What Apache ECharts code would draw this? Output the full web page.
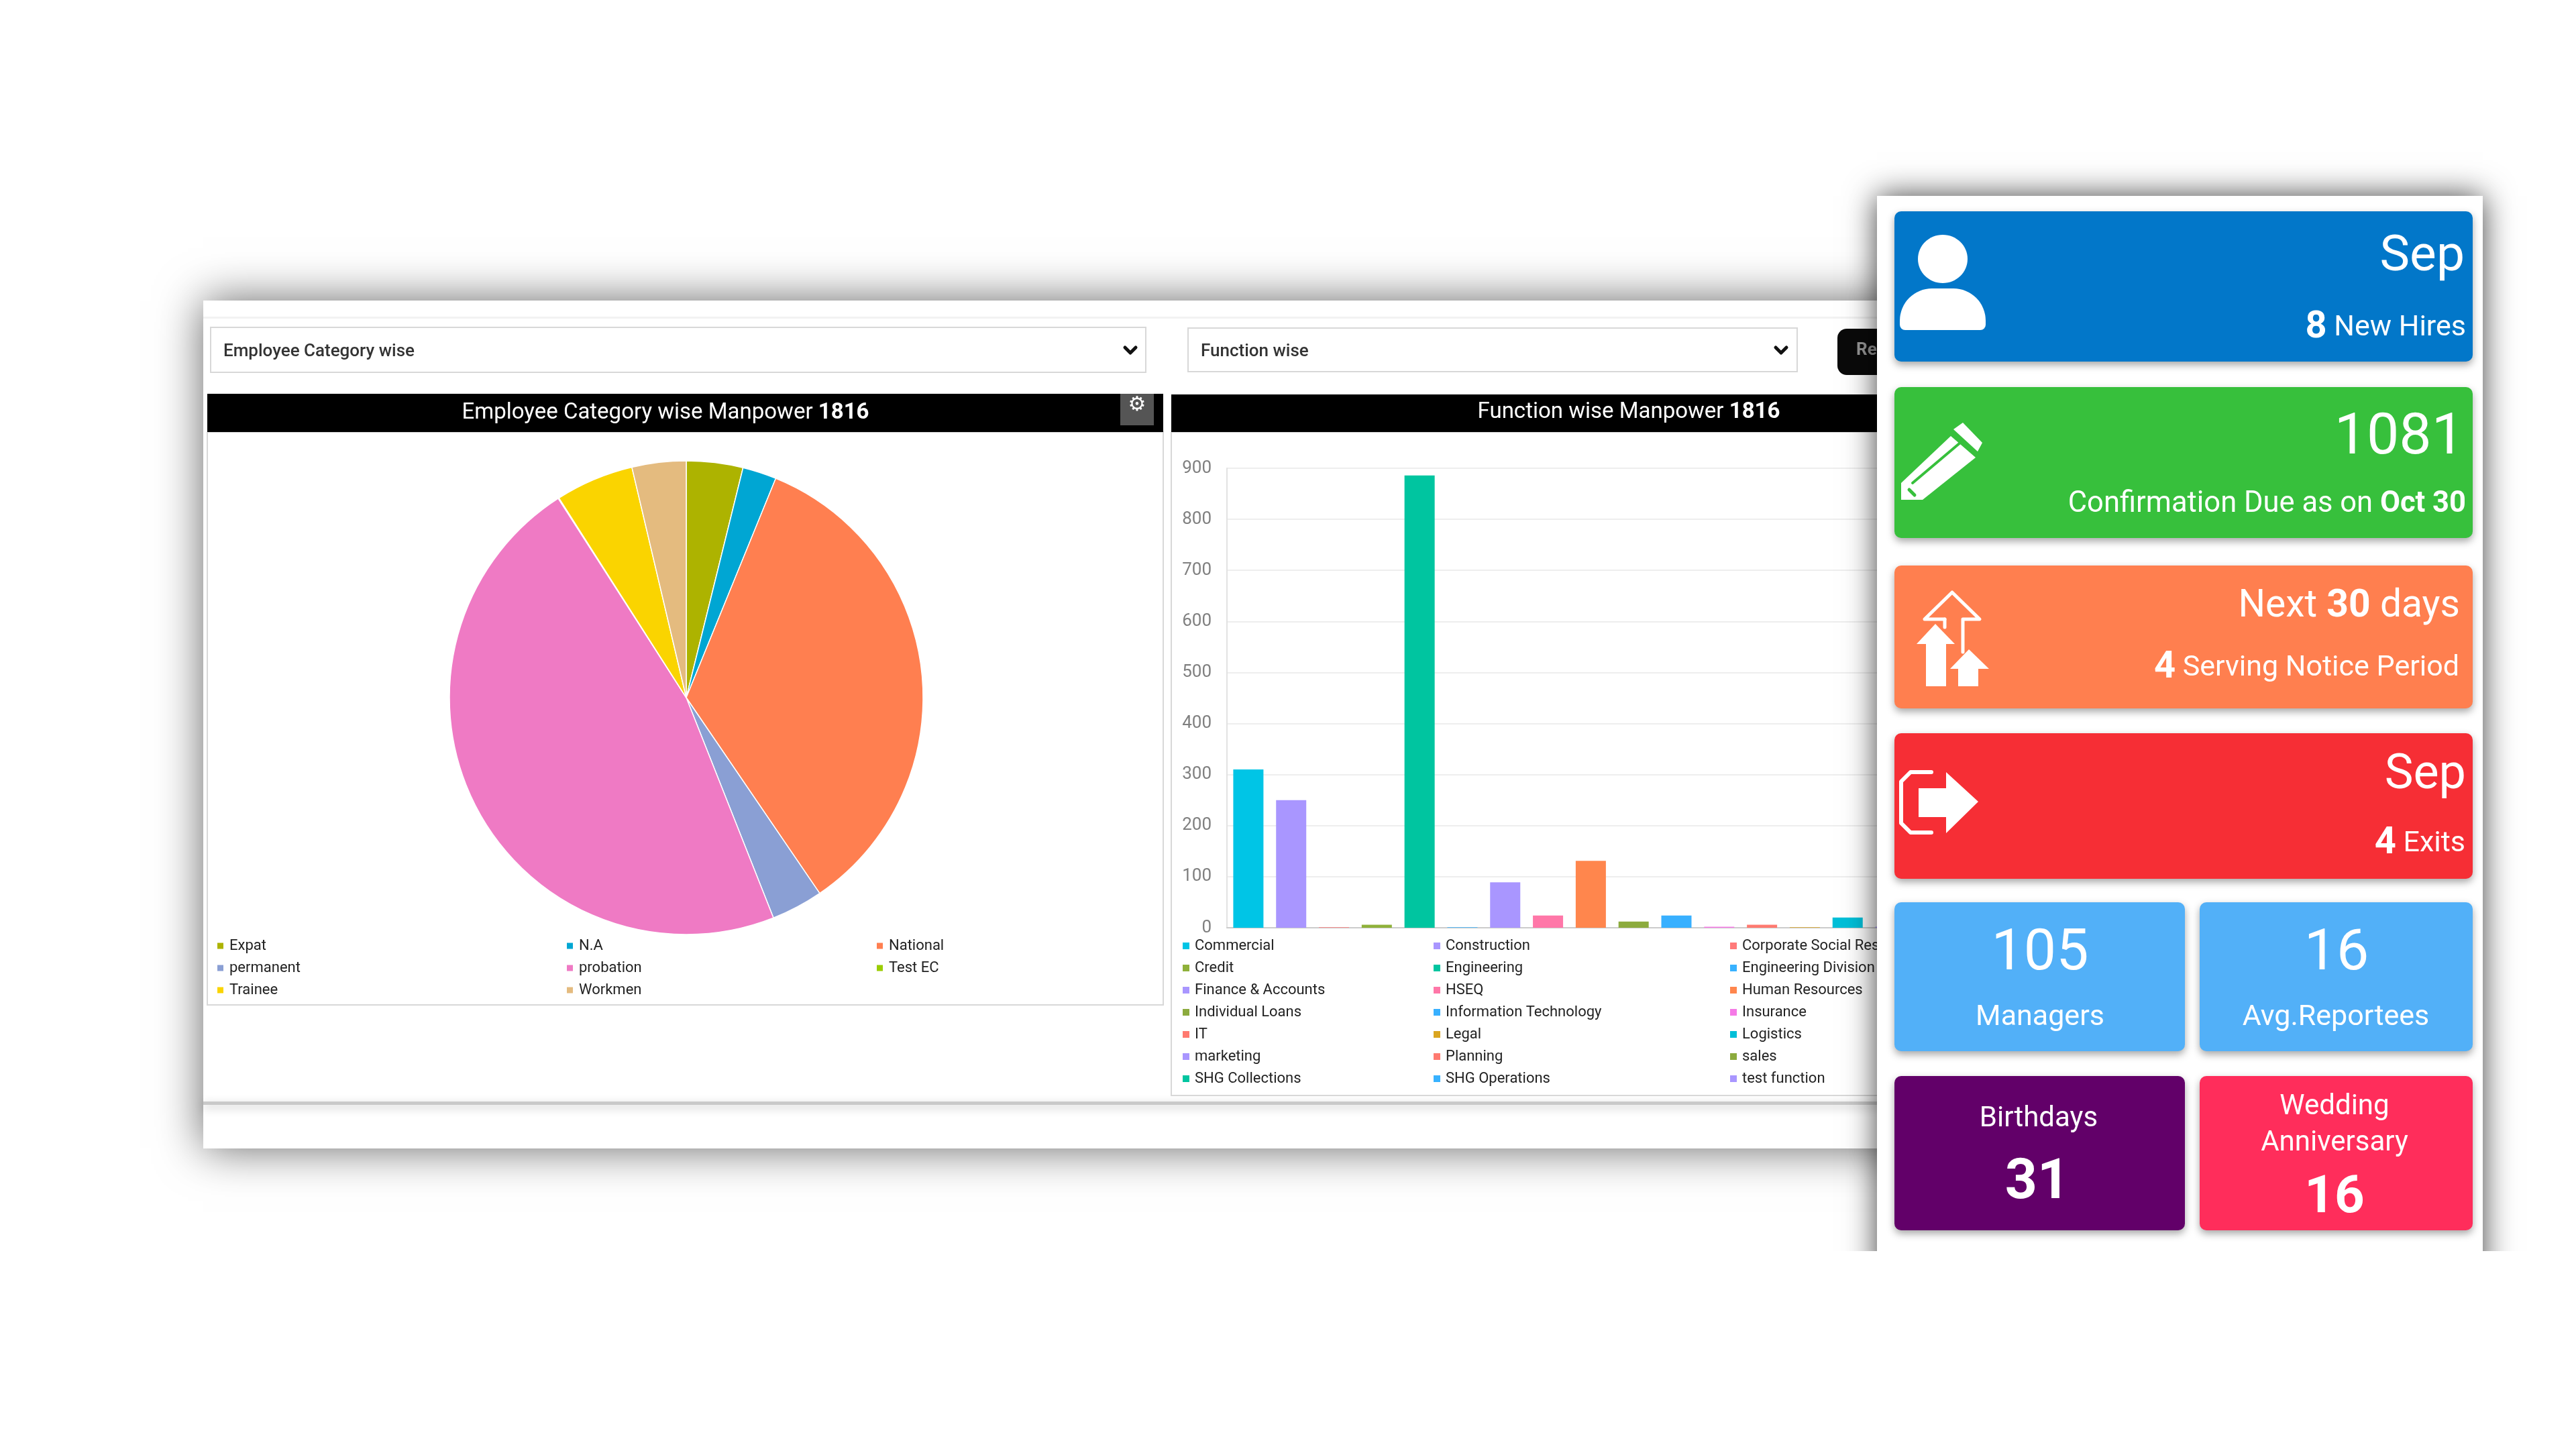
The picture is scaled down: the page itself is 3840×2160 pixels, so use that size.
<!DOCTYPE html>
<html>
<head>
<meta charset="utf-8">
<title>Manpower dashboard</title>
<script src="https://cdn.jsdelivr.net/npm/echarts@6/dist/echarts.min.js"></script>
<style>
  html, body { margin: 0; padding: 0; background: #fff; }
  #main { width: 3840px; height: 2160px; }
</style>
</head>
<body>
<div id="main"></div>
<script>
// Employee category pie
var catNames = ['Expat', 'N.A', 'National', 'permanent', 'probation', 'Test EC', 'Trainee', 'Workmen'];
var catValues = [70, 42, 623, 64, 852, 1, 97, 67];
var catColors = ['#adb300', '#00a6d3', '#ff7f50', '#8a9fd4', '#ef7ac4', '#9acd00', '#fad400', '#e4bb7f'];

// Function wise bars (the last six sit behind the side panel)
var fnNames = ['Commercial', 'Construction', 'Corporate Social Responsibility', 'Credit', 'Engineering',
    'Engineering Division', 'Finance & Accounts', 'HSEQ', 'Human Resources', 'Individual Loans',
    'Information Technology', 'Insurance', 'IT', 'Legal', 'Logistics', 'marketing', 'Planning', 'sales',
    'SHG Collections', 'SHG Operations', 'test function'];
var fnValues = [310, 250, 1, 6, 886, 1, 89, 24, 131, 12, 24, 2, 6, 1, 20, 2, 3, 30, 10, 5, 2];
var fnColors = ['#00c5e6', '#a996ff', '#ff7a7a', '#8fb13a', '#00c5a0', '#38b2ff', '#a996ff', '#ff77a8',
    '#ff864d', '#8cab3e', '#38b0ff', '#f57ae6', '#ff7a70', '#daa520', '#00bfd8', '#a996ff', '#ff7a70',
    '#8cab3e', '#00c5a0', '#38b2ff', '#a996ff'];

var FONT = 'Roboto';
var BG = -1, TOP = 100;

const rect = (x, y, w, h, fill, z, extra) => Object.assign({
    type: 'rect', z: z,
    shape: { x: x, y: y, width: w, height: h, r: (extra && extra.r) || 0 },
    style: Object.assign({ fill: fill }, (extra && extra.style) || {})
});

const label = (x, y, text, size, color, z, align, weight, rich) => ({
    type: 'text', z: z, x: x, y: y,
    style: {
        text: text, fill: color, fontFamily: FONT, fontSize: size, fontWeight: weight || 400,
        align: align || 'left', verticalAlign: 'middle', rich: rich
    }
});

const poly = (points, fill, z) => ({ type: 'polygon', z: z, shape: { points: points }, style: { fill: fill } });
const line = (points, color, width, z) => ({
    type: 'polyline', z: z, shape: { points: points },
    style: { stroke: color, lineWidth: width, fill: null, lineCap: 'round', lineJoin: 'round' }
});

const richWhite = {
    b: { fontFamily: FONT, fontSize: 56, fontWeight: 700, fill: '#fff' },
    n: { fontFamily: FONT, fontSize: 43, fill: '#fff' },
    t: { fontFamily: FONT, fontSize: 57, fill: '#fff' },
    tb: { fontFamily: FONT, fontSize: 57, fontWeight: 700, fill: '#fff' },
    c: { fontFamily: FONT, fontSize: 43.5, fill: '#fff' },
    cb: { fontFamily: FONT, fontSize: 43.5, fontWeight: 700, fill: '#fff' }
};

// Main page panel, behind the charts
const backElements = () => {
    var cardShadow = { shadowBlur: 64, shadowColor: 'rgba(0,0,0,0.6)' };
    var thinBox = { stroke: '#d8d8d8', lineWidth: 2 };
    return [
        rect(303, 448, 2600, 1264, '#fff', BG, { style: cardShadow }),
        rect(303, 472, 2600, 3, '#f2f2f2', BG),
        rect(303, 1642, 2600, 5, '#c9c9c9', BG, { style: { shadowBlur: 14, shadowColor: 'rgba(0,0,0,0.25)', shadowOffsetY: 4 } }),

        rect(314, 488, 1394, 67, '#fff', BG, { style: thinBox }),
        label(333, 524, 'Employee Category wise', 26, '#333', BG, 'left', 500),
        line([[1677, 518], [1685, 526], [1693, 518]], '#111', 5, BG),
        rect(1771, 489, 908, 65, '#fff', BG, { style: thinBox }),
        label(1790, 524, 'Function wise', 26, '#333', BG, 'left', 500),
        line([[2647, 518], [2655, 526], [2663, 518]], '#111', 5, BG),
        rect(2739, 490, 120, 69, '#0a0a0a', BG, { r: 14 }),
        label(2767, 522, 'Re', 26, '#999', BG, 'left', 700),

        rect(309, 644, 1425, 854, '#fff', BG, { style: thinBox }),
        rect(309, 587, 1425, 57, '#000', BG),
        label(992, 616, '{h|Employee Category wise Manpower }{hb|1816}', 33, '#fff', BG, 'center', 400, {
            h: { fontFamily: FONT, fontSize: 33, fill: '#fff' },
            hb: { fontFamily: FONT, fontSize: 33, fontWeight: 700, fill: '#fff' }
        }),
        rect(1670, 587, 50, 47, '#555', BG),
        { type: 'text', z: BG, x: 1695, y: 604, style: { text: '\u2699', fill: '#fff', fontFamily: 'DejaVu Sans', fontWeight: 700, fontSize: 30, align: 'center', verticalAlign: 'middle' } },

        rect(1746, 644, 1200, 989, '#fff', BG, { style: thinBox }),
        rect(1746, 588, 1200, 56, '#000', BG),
        label(2428, 615, '{h|Function wise Manpower }{hb|1816}', 33, '#fff', BG, 'center', 400, {
            h: { fontFamily: FONT, fontSize: 33, fill: '#fff' },
            hb: { fontFamily: FONT, fontSize: 33, fontWeight: 700, fill: '#fff' }
        })
    ];
};

// Side panel with the coloured cards, covers the end of the bar chart
const sideElements = () => {
    var s = { shadowBlur: 12, shadowColor: 'rgba(0,0,0,0.35)', shadowOffsetY: 5 };
    var card = (x, y, w, h, c) => rect(x, y, w, h, c, TOP + 2, { r: 10, style: s });
    var Z = TOP + 3;
    return [
        rect(2798, 292, 903, 1620, '#fff', TOP, { style: { shadowBlur: 44, shadowColor: 'rgba(0,0,0,0.75)' } }),
        rect(2700, 1865, 1140, 295, '#fff', TOP + 1),

        card(2824, 315, 862, 224, '#0277c9'),
        card(2824, 577, 862, 225, '#37c03c'),
        card(2824, 843, 862, 213, '#ff7f4f'),
        card(2824, 1093, 862, 217, '#f62e35'),
        card(2824, 1345, 433, 222, '#52b0f8'),
        card(3279, 1345, 407, 222, '#52b0f8'),
        card(2824, 1604, 433, 230, '#620069'),
        card(3279, 1604, 407, 230, '#ff2d5b'),

        // person
        { type: 'ellipse', z: Z, shape: { cx: 2896, cy: 386, rx: 37, ry: 36 }, style: { fill: '#fff' } },
        rect(2832, 430, 128, 62, '#fff', Z, { r: [48, 48, 8, 8] }),
        label(3674, 384, 'Sep', 75, '#fff', Z, 'right'),
        label(3676, 489, '{b|8} {n|New Hires}', 43, '#fff', Z, 'right', 400, richWhite),

        // pencil
        poly([[2834, 720], [2908, 650], [2945, 682], [2866, 745], [2834, 745]], '#fff', Z),
        poly([[2912, 640], [2926, 630], [2955, 660], [2948, 673]], '#fff', Z),
        line([[2851, 720], [2922, 660]], '#37c03c', 4, Z),
        line([[2846, 730], [2854, 738]], '#37c03c', 5, Z),
        label(3673, 654, '1081', 86, '#fff', Z, 'right'),
        label(3676, 752, '{c|Confirmation Due as on }{cb|Oct 30}', 43.5, '#fff', Z, 'right', 400, richWhite),

        // arrows
        line([[2899, 923], [2869, 923], [2910, 883], [2951, 923], [2926, 923], [2926, 972]], '#fff', 5, Z),
        line([[2899, 923], [2899, 935]], '#fff', 5, Z),
        poly([[2885, 930], [2914, 960], [2901, 960], [2901, 1023], [2871, 1023], [2871, 960], [2857, 960]], '#fff', Z),
        poly([[2935, 968], [2965, 997], [2949, 997], [2949, 1023], [2919, 1023], [2919, 997], [2907, 997]], '#fff', Z),
        label(3667, 905, '{t|Next }{tb|30}{t| days}', 57, '#fff', Z, 'right', 400, richWhite),
        label(3666, 996, '{b|4} {n|Serving Notice Period}', 43, '#fff', Z, 'right', 400, richWhite),

        // exit
        line([[2879, 1151], [2848, 1151], [2834, 1165], [2834, 1227], [2848, 1241], [2879, 1241]], '#fff', 6, Z),
        poly([[2860, 1175], [2901, 1175], [2901, 1151], [2949, 1195], [2901, 1242], [2901, 1218], [2860, 1218]], '#fff', Z),
        label(3676, 1157, 'Sep', 72, '#fff', Z, 'right'),
        label(3675, 1258, '{b|4} {n|Exits}', 43, '#fff', Z, 'right', 400, richWhite),

        label(3041, 1423, '105', 86, '#fff', Z, 'center'),
        label(3041, 1517, 'Managers', 43, '#fff', Z, 'center'),
        label(3483, 1423, '16', 86, '#fff', Z, 'center'),
        label(3482, 1517, 'Avg.Reportees', 43, '#fff', Z, 'center'),

        label(3039, 1668, 'Birthdays', 42, '#fff', Z, 'center'),
        label(3037, 1765, '31', 84, '#fff', Z, 'center', 700),
        label(3480, 1650, 'Wedding', 42, '#fff', Z, 'center'),
        label(3480, 1704, 'Anniversary', 42, '#fff', Z, 'center'),
        label(3480, 1787, '16', 78, '#fff', Z, 'center', 700)
    ];
};

// One legend per column so the columns line up
const columnLegend = (names, col, left, top, gap, size) => ({
    show: true, orient: 'vertical', left: left, top: top, padding: 0,
    data: names.filter((n, i) => i % 3 === col),
    icon: 'rect', itemWidth: size, itemHeight: size, itemGap: gap, selectedMode: false,
    textStyle: { color: '#222', fontFamily: FONT, fontSize: 22, lineHeight: 24, padding: [0, 0, 0, 3] }
});

const getOption = () => {
    var pieData = [];
    for (var i = 0; i < catNames.length; i++) {
        pieData.push({ value: catValues[i], name: catNames[i], itemStyle: { color: catColors[i] } });
    }

    var series = [{
        type: 'pie', center: [1023, 1040], radius: 353, startAngle: 90, clockwise: true,
        label: { show: false }, labelLine: { show: false }, silent: true,
        itemStyle: { borderColor: '#fff', borderWidth: 1.5 },
        data: pieData
    }];

    // a series per function, so each one has its legend entry
    for (var j = 0; j < fnNames.length; j++) {
        var vals = fnNames.map(() => null);
        vals[j] = fnValues[j];
        series.push({
            type: 'bar', name: fnNames[j], stack: 'fn', barWidth: 45, silent: true,
            itemStyle: { color: fnColors[j] }, data: vals
        });
    }

    return {
        animation: false,
        backgroundColor: '#fff',
        grid: { left: 1829, top: 698, width: 1340, height: 685, containLabel: false },
        xAxis: {
            type: 'category', data: fnNames,
            axisLabel: { show: false }, axisTick: { show: false },
            axisLine: { lineStyle: { color: '#ccc', width: 2 } }
        },
        yAxis: {
            type: 'value', min: 0, max: 900, interval: 100,
            axisLabel: { color: '#808080', fontFamily: FONT, fontSize: 26, margin: 23 },
            axisLine: { show: true, lineStyle: { color: '#e2e2e2', width: 2 } },
            axisTick: { show: false },
            splitLine: { lineStyle: { color: '#eeeeee', width: 2 } }
        },
        legend: [
            columnLegend(catNames, 0, 322, 1398, 9, 11),
            columnLegend(catNames, 1, 843, 1398, 9, 11),
            columnLegend(catNames, 2, 1305, 1398, 9, 11),
            columnLegend(fnNames, 0, 1763, 1398, 9, 10),
            columnLegend(fnNames, 1, 2137, 1398, 9, 10),
            columnLegend(fnNames, 2, 2579, 1398, 9, 10)
        ],
        graphic: { elements: backElements().concat(sideElements()) },
        series: series
    };
};

var chart = echarts.init(document.getElementById('main'));
chart.setOption(getOption());
</script>
</body>
</html>
